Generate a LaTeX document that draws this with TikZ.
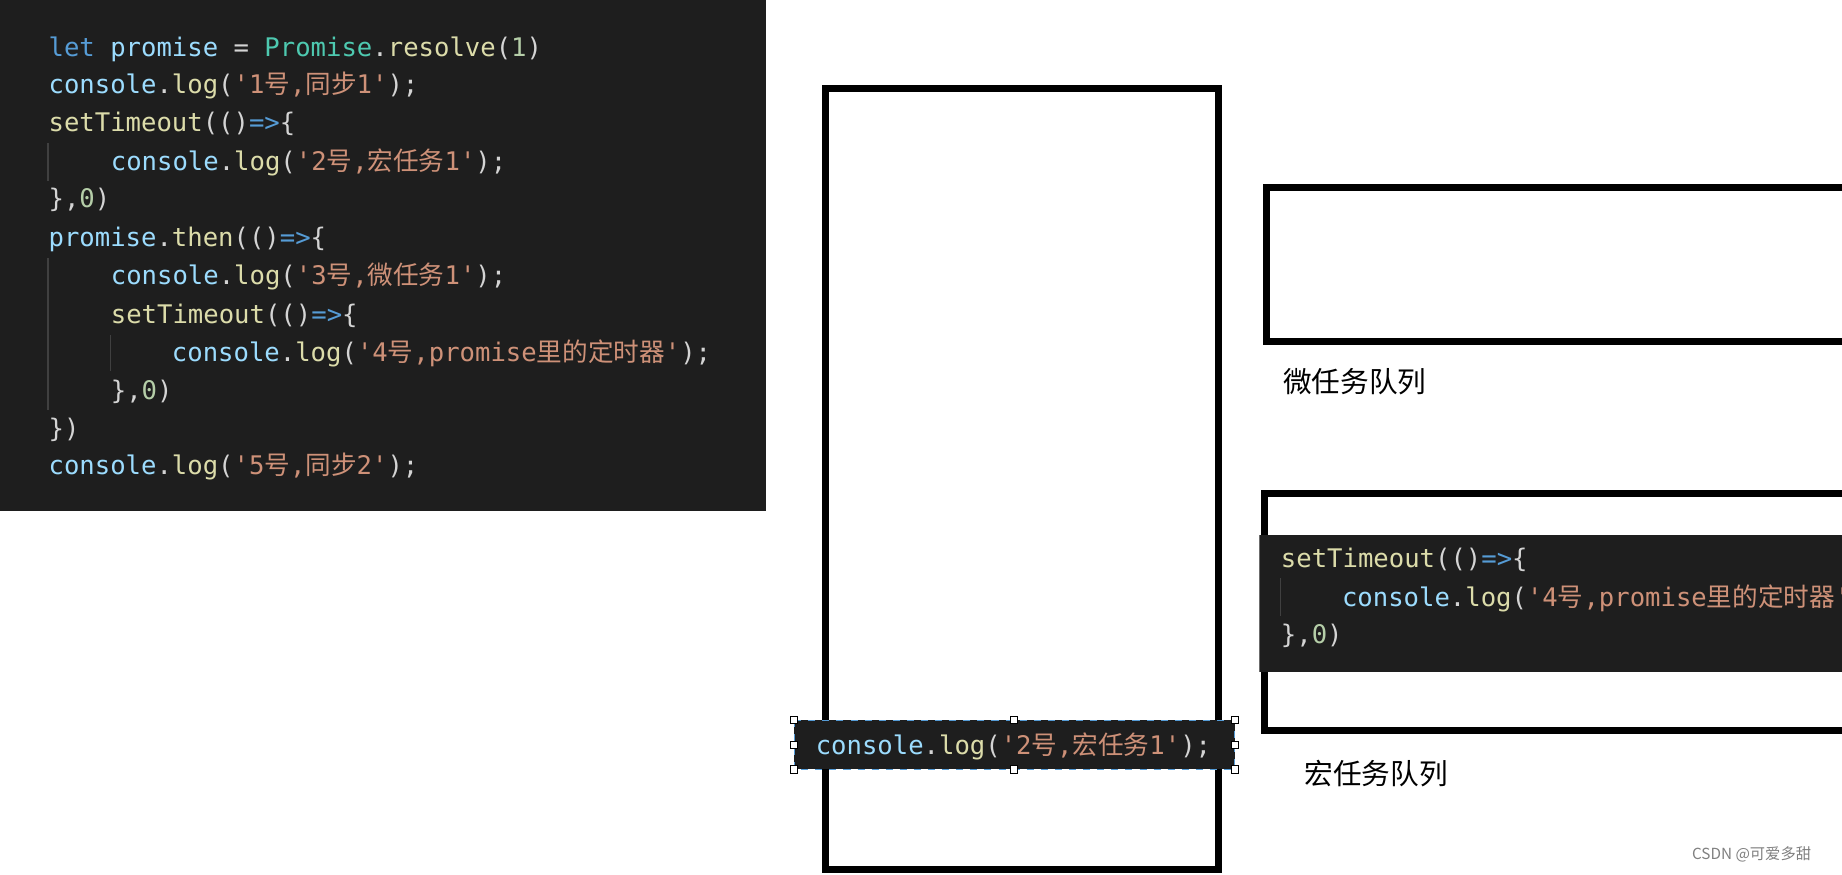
\documentclass[tikz,border=0pt]{standalone}
\usepackage{fontspec}
\setmonofont{DejaVu Sans Mono}
\newfontfamily\cjk{Noto Sans CJK SC}
\definecolor{bg}{HTML}{1E1E1E}
\definecolor{kw}{HTML}{569CD6}
\definecolor{vr}{HTML}{9CDCFE}
\definecolor{fn}{HTML}{DCDCAA}
\definecolor{st}{HTML}{CE9178}
\definecolor{nm}{HTML}{B5CEA8}
\definecolor{cl}{HTML}{4EC9B0}
\definecolor{tx}{HTML}{D4D4D4}
\definecolor{gd}{HTML}{404040}
\newcommand\zh[1]{{\cjk #1}}
\newcommand\cK[1]{\textcolor{kw}{#1}}
\newcommand\cV[1]{\textcolor{vr}{#1}}
\newcommand\cF[1]{\textcolor{fn}{#1}}
\newcommand\cS[1]{\textcolor{st}{#1}}
\newcommand\cN[1]{\textcolor{nm}{#1}}
\newcommand\cC[1]{\textcolor{cl}{#1}}
\begin{document}
\begin{tikzpicture}[x=0.5pt,y=-0.5pt,
  code/.style={anchor=base west,inner sep=0pt,text=tx,font=\ttfamily\fontsize{10.9}{13}\selectfont},
  lbl/.style={anchor=base west,inner sep=0pt,font=\cjk\fontsize{12.2}{14}\selectfont},
  frame/.style={draw=black,line width=3pt},
  guide/.style={draw=gd,line width=0.6pt}]
\useasboundingbox (0,0) rectangle (1568,744);
\fill[white] (0,0) rectangle (1568,744);
% code panel
\fill[bg] (0,0) rectangle (652,435);
\draw[guide] (41,122) -- (41,154);
\draw[guide] (41,220) -- (41,349);
\draw[guide] (94,285) -- (94,316);
\node[code] (l1) at (41,48) {\cK{let} \cV{promise} = \cC{Promise}.\cF{resolve}(\cN{1})};
\node[code] (l2) at (41,80) {\cV{console}.\cF{log}(\cS{'1\zh{号},\zh{同步}1'});};
\node[code] (l3) at (41,112) {\cF{setTimeout}(()\cK{=>}\{};
\node[code] (l4) at (94,145) {\cV{console}.\cF{log}(\cS{'2\zh{号},\zh{宏任务}1'});};
\node[code] (l5) at (41,177) {\},\cN{0})};
\node[code] (l6) at (41,210) {\cV{promise}.\cF{then}(()\cK{=>}\{};
\node[code] (l7) at (94,242) {\cV{console}.\cF{log}(\cS{'3\zh{号},\zh{微任务}1'});};
\node[code] (l8) at (94,275) {\cF{setTimeout}(()\cK{=>}\{};
\node[code] (l9) at (146,308) {\cV{console}.\cF{log}(\cS{'4\zh{号},promise\zh{里的定时器}'});};
\node[code] (l10) at (94,340) {\},\cN{0})};
\node[code] (l11) at (41,372) {\})};
\node[code] (l12) at (41,404) {\cV{console}.\cF{log}(\cS{'5\zh{号},\zh{同步}2'});};
% call stack
\draw[frame] (703,75) rectangle (1037,740);
% microtask queue
\draw[frame] (1078,160) rectangle (1580,291);
\node[lbl] (mic) at (1092,334) {微任务队列};
% macrotask queue
\draw[frame] (1076,420) rectangle (1580,622);
\begin{scope}
\clip (1072,455) rectangle (1568,572);
\fill[bg] (1072,455) rectangle (1568,572);
\draw[guide] (1090,492) -- (1090,524);
\node[code] (m1) at (1090,483) {\cF{setTimeout}(()\cK{=>}\{};
\node[code] (m2) at (1142,516) {\cV{console}.\cF{log}(\cS{'4\zh{号},promise\zh{里的定时器}'});};
\node[code] (m3) at (1090,548) {\},\cN{0})};
\end{scope}
\node[lbl] (mac) at (1110,668) {宏任务队列};
% moving snippet
\fill[bg] (676,613) rectangle (1051,655);
\draw[kw,dashed,line width=0.5pt] (676,613) rectangle (1051,655);
\foreach \p in {(676,613),(863,613),(1051,613),(676,634),(1051,634),(676,655),(863,655),(1051,655)}
  \draw[black,fill=white,line width=0.4pt] \p ++(-3,-3) rectangle ++(6,6);
\node[code] (s1) at (694,642) {\cV{console}.\cF{log}(\cS{'2\zh{号},\zh{宏任务}1'});};
% watermark
\node[anchor=base west,inner sep=0pt,text=gray,font=\cjk\fontsize{6.5}{8}\selectfont] (wm) at (1440,732) {CSDN @可爱多甜};
\end{tikzpicture}
\end{document}
